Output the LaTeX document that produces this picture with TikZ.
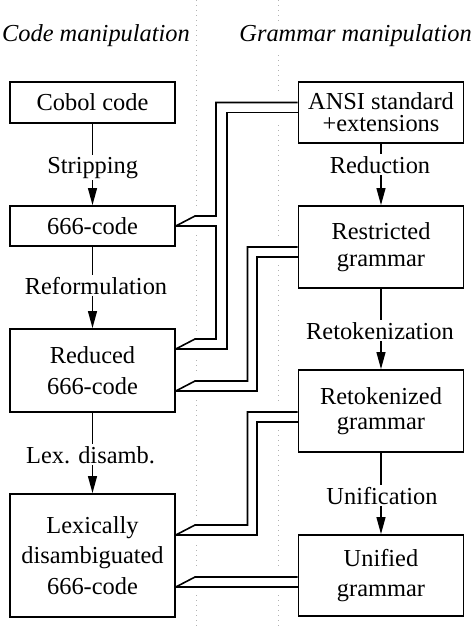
\documentclass[tikz,border=0pt]{standalone}
\usepackage{fontspec}
\setmainfont{Liberation Serif}
\usetikzlibrary{arrows.meta,calc}
\pgfdeclarelayer{background}
\pgfsetlayers{background,main}
\tikzset{
  box/.style={draw, line width=0.8pt, minimum width=82.5pt, align=center, inner sep=0pt},
  lbl/.style={fill=white, inner sep=1pt, anchor=base},
  hdr/.style={fill=white, inner xsep=0pt, inner ysep=2pt, anchor=base west},
  flow/.style={-{Triangle[length=8.5pt,width=4.4pt]}, line width=0.8pt},
  link/.style={line width=0.8pt},
  halo/.style={white, line width=8pt},
  guide/.style={gray!60, dotted, line width=0.5pt}
}
% the paired links between grammar and code boxes
\newcommand\tiepaths[1]{%
  \draw[#1] (a1) -| (216,216) -- (195,216) -- (c1);
  \draw[#1] (c1) -| (216,339) -- (195,339) -- (r1);
  \draw[#1] (a2) -| (227,349) -- (r1);
  \draw[#1] (s1) -| (247.5,381) -- (195,381) -- (r2);
  \draw[#1] (s2) -| (257,391) -- (r2);
  \draw[#1] (t1) -| (247.5,525) -- (195,525) -- (l1);
  \draw[#1] (t2) -| (257,535) -- (l1);
  \draw[#1] (u1) -- (195,577) -- (l2);
  \draw[#1] (u2) -- (l2);
}
\begin{document}
\begin{tikzpicture}[x=0.5pt,y=-0.5pt,font=\fontsize{12.2}{15.2}\selectfont]
    \clip (0,0) rectangle (474,628);
    \node[hdr] (hcode) at (1.7,41.7) {\itshape Code manipulation};
    \node[hdr] (hgram) at (239,41.7) {\itshape Grammar manipulation};
    % code side
    \node[box, minimum height=20.5pt] (cobol)   at (92.5,102.5) {Cobol code};
    \node[box, minimum height=20pt]   (code666) at (92.5,226)   {666-code};
    \node[box, minimum height=41.5pt] (reduced) at (92.5,370.5) {Reduced\\666-code};
    \node[box, minimum height=61.5pt] (lexdis)  at (92.5,555.5) {Lexically\\disambiguated\\666-code};
    % grammar side
    \node[box, minimum height=30.5pt] (ansi)       at (381,112.5) {ANSI standard\\[-4.2pt]+extensions};
    \node[box, minimum height=41pt]   (restricted) at (381,247)   {Restricted\\[-1.7pt]grammar};
    \node[box, minimum height=41pt]   (retok)      at (381,411)   {Retokenized\\[-2.7pt]grammar};
    \node[box, minimum height=40.5pt] (unified)    at (381,575.5) {Unified\\grammar};
    \path%
      (cobol) edge [flow] (code666)
      (code666) edge [flow] (reduced)
      (reduced) edge [flow] (lexdis)
      (ansi) edge [flow] (restricted)
      (restricted) edge [flow] (retok)
      (retok) edge [flow] (unified);
    \node[lbl] (lstrip)  at (92.7,173) {Stripping};
    \node[lbl] (lreform) at (96,294)   {Reformulation};
    \node[lbl] (llex)    at (90.5,463) {Lex. disamb.};
    \node[lbl] (lreduct) at (380,173)  {Reduction};
    \node[lbl] (lretok)  at (380,339)  {Retokenization};
    \node[lbl] (lunif)   at (382,504)  {Unification};
    % link end points
    \coordinate (a1) at ($(ansi.west)+(0,-10)$);
    \coordinate (a2) at (ansi.west);
    \coordinate (c1) at (code666.east);
    \coordinate (r1) at ($(reduced.east)+(0,-21.5)$);
    \coordinate (r2) at ($(reduced.east)+(0,20.5)$);
    \coordinate (s1) at (restricted.west);
    \coordinate (s2) at ($(restricted.west)+(0,10)$);
    \coordinate (t1) at ($(retok.west)+(0,1)$);
    \coordinate (t2) at ($(retok.west)+(0,11)$);
    \coordinate (u1) at ($(unified.west)+(0,1.5)$);
    \coordinate (u2) at ($(unified.west)+(0,11.5)$);
    \coordinate (l1) at ($(lexdis.east)+(0,-20.5)$);
    \coordinate (l2) at ($(lexdis.east)+(0,31.5)$);
    \begin{pgfonlayer}{background}
      \draw[guide] (196,0) -- (196,628);
      \draw[guide] (278,0) -- (278,628);
      \tiepaths{halo}
    \end{pgfonlayer}
    \tiepaths{link}
\end{tikzpicture}
\end{document}
